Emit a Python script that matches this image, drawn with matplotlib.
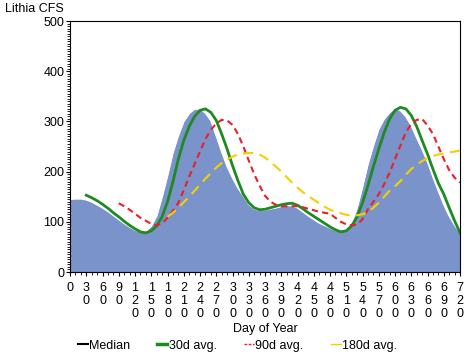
import numpy as np
import matplotlib.pyplot as plt
from matplotlib.lines import Line2D
from matplotlib.ticker import MultipleLocator

plt.rcParams["font.family"] = ["Liberation Sans", "DejaVu Sans"]

# Median flow (filled area), read every 10 days
median_days = list(range(0, 721, 10))
median_cfs = [145, 146, 146, 144, 140, 134, 128, 121, 113, 105,
              97, 90, 84, 80, 81, 92, 112, 150, 192, 238,
              272, 300, 316, 325, 325, 317, 302, 272, 240, 211,
              188, 168, 152, 135, 126, 123, 124, 126, 128, 131,
              133, 132, 128, 120, 112, 105, 98, 93, 88, 83,
              81, 86, 98, 128, 170, 215, 252, 285, 305, 318,
              326, 322, 310, 292, 268, 245, 220, 190, 162, 135,
              112, 94, 78]

# 30 day average
avg30_days = list(range(30, 721, 10))
avg30_cfs = [153, 148, 142, 135, 127, 118, 110, 101, 93, 86,
             80, 78, 82, 92, 110, 140, 180, 225, 262, 290,
             310, 322, 325, 318, 302, 275, 245, 212, 182, 155,
             138, 128, 124, 125, 128, 131, 134, 136, 137, 133,
             126, 118, 111, 104, 97, 90, 84, 80, 82, 92,
             110, 138, 172, 210, 245, 278, 305, 322, 328, 325,
             312, 290, 262, 235, 205, 177, 155, 128, 102, 78]

# 90 day average
avg90_days = list(range(90, 721, 10))
avg90_cfs = [137, 131, 124, 116, 108, 102, 96, 93, 97, 108,
             122, 138, 163, 190, 215, 240, 265, 283, 296, 303,
             302, 293, 275, 250, 222, 195, 172, 152, 140, 134,
             131, 131, 131, 131, 129, 126, 123, 120, 118, 116,
             108, 100, 95, 93, 95, 105, 125, 140, 155, 175,
             198, 225, 252, 278, 295, 303, 305, 292, 275, 250,
             225, 203, 188, 178]

# 180 day average
avg180_days = list(range(180, 721, 10))
avg180_cfs = [110, 118, 128, 139, 150, 162, 174, 186, 197, 208,
              217, 224, 230, 234, 236, 237, 237, 234, 228, 220,
              210, 200, 189, 178, 168, 159, 151, 144, 137, 130,
              124, 120, 117, 114, 112, 113, 115, 119, 128, 138,
              150, 162, 171, 181, 194, 205, 214, 221, 227, 231,
              234, 236, 238, 240, 242]

fig = plt.figure(figsize=(4.74, 3.55), dpi=100)
ax = fig.add_axes([0.1477, 0.2338, 0.8228, 0.707])

ax.fill_between(median_days, median_cfs, 0, color="#7b93cb", lw=0)
ax.plot(median_days, median_cfs, color="white", lw=1.2)
ax.plot(avg30_days, avg30_cfs, color="#1f8a1f", lw=2)
ax.plot(avg90_days, avg90_cfs, color="#e8202a", lw=1.5, dashes=(3, 2))
ax.plot(avg180_days, avg180_cfs, color="#f5d000", lw=1.5, dashes=(5, 3))

ax.set_xlim(0, 720)
ax.set_ylim(0, 500)
ticks = list(range(0, 721, 30))
ax.set_xticks(ticks)
ax.set_xticklabels(["\n".join(str(t)) for t in ticks], linespacing=1.12)
ax.set_yticks(range(0, 501, 100))
ax.xaxis.set_minor_locator(MultipleLocator(10))
ax.yaxis.set_minor_locator(MultipleLocator(5))
ax.tick_params(axis="both", which="major", labelsize=9, length=3, pad=1)
ax.tick_params(axis="x", which="major", pad=4)
ax.tick_params(axis="both", which="minor", length=2)
ax.set_xlabel("Day of Year", fontsize=9, labelpad=2)
fig.text(0.01, 0.965, "Lithia CFS", fontsize=9)

handles = [Line2D([], [], color="black", lw=1.5),
           Line2D([], [], color="#1f8a1f", lw=2.5),
           Line2D([], [], color="#e8202a", lw=1, dashes=(2, 1)),
           Line2D([], [], color="#f5d000", lw=1)]
fig.legend(handles, ["Median", "30d avg.", "90d avg.", "180d avg."],
           loc="lower left", bbox_to_anchor=(0.14, -0.022), ncol=4,
           frameon=False, fontsize=9, handlelength=0.8, handletextpad=0.1,
           columnspacing=2.2)

plt.savefig("out.png", dpi=100)
